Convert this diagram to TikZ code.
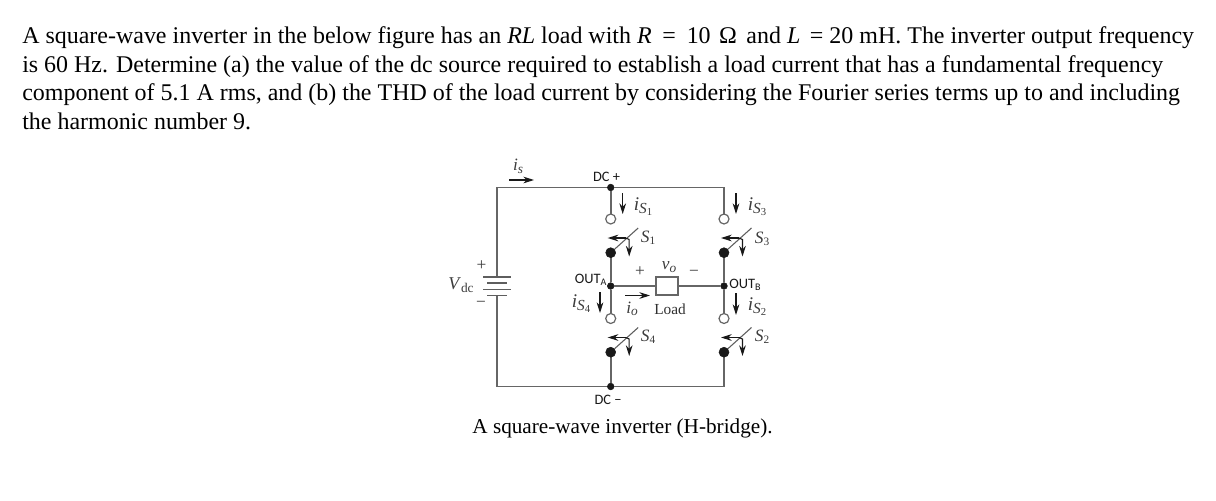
\documentclass[tikz,border=0pt]{standalone}
\usepackage{fontspec}
\setmainfont{Liberation Serif}
\newfontfamily\labelsans{Carlito}
\usetikzlibrary{arrows.meta}
\definecolor{wire}{gray}{0.4}
\definecolor{ink}{gray}{0.1}
\newcommand{\iS}[1]{{\fontsize{14.5pt}{15pt}\selectfont\textit{i}\raisebox{-0.3ex}{\fontsize{11.5pt}{11pt}\selectfont\textit{S}\raisebox{-0.35ex}{\fontsize{8pt}{8pt}\selectfont #1}}}}
\newcommand{\bigS}[1]{\textit{S}\raisebox{-0.3ex}{\fontsize{8.5pt}{8.5pt}\selectfont #1}}
\tikzset{
  x=0.75pt,y=-0.75pt,
  wireline/.style={draw=wire,line width=1.25pt},
  thinline/.style={draw=ink!70,line width=0.8pt},
  arr/.style={draw=ink,line width=0.8pt,-{Stealth[length=8pt,width=5pt]}},
  dotc/.style={circle,fill=ink,draw=ink,inner sep=0pt,minimum size=5pt},
  dotb/.style={circle,fill=ink,draw=ink,inner sep=0pt,minimum size=7.5pt},
  openc/.style={circle,fill=white,draw=wire,line width=0.9pt,inner sep=0pt,minimum size=7.5pt},
  para/.style={anchor=base west,inner sep=0pt,font=\fontsize{17.97pt}{22pt}\selectfont},
  captext/.style={anchor=base,inner sep=0pt,font=\fontsize{15.9pt}{20pt}\selectfont},
  sanslab/.style={anchor=base,inner sep=0pt,text=ink,font=\labelsans\fontsize{10.8pt}{12pt}\selectfont},
  serlab/.style={anchor=base,inner sep=0pt,text=ink!90,font=\fontsize{11.5pt}{12pt}\selectfont},
  mlab/.style={anchor=center,inner sep=0pt,text=ink!85,font=\fontsize{13pt}{14pt}\selectfont},
}
\newcommand{\swblock}[3]{%
  \node[openc] (#1o) at (#2,#3) {};
  \node[dotb] (#1c) at (#2,#3+33.7) {};
  \coordinate (#1t) at (#2+27.5,#3+9);
  \coordinate (#1a) at (#2+15,#3+19);
  \coordinate (#1b) at (#2-3,#3+19);
  \coordinate (#1d) at (#2+18.5,#3+37.5);
  \draw[thinline] (#1c) -- (#1t);
  \draw[arr] (#1a) -- (#1b);
  \draw[arr] (#1a) -- ++(3.5,1.5) -- (#1d);
}
\begin{document}
\begin{tikzpicture}
\useasboundingbox (0,0) rectangle (1216,500);
\fill[white] (0,0) rectangle (1216,500);
\node[para] (l1) at (22,43) {A square-wave inverter in the below figure has an \textit{RL} load with \textit{R}\hspace{0.45em}=\hspace{0.45em}10\hspace{0.35em}Ω\hspace{0.4em}and \textit{L}\hspace{0.4em}=\hspace{0.25em}20 mH. The inverter output frequency};
\node[para] (l2) at (22,72) {is 60 Hz. Determine (a) the value of the dc source required to establish a load current that has a fundamental frequency};
\node[para] (l3) at (22,100) {component of 5.1 A rms, and (b) the THD of the load current by considering the Fourier series terms up to and including};
\node[para] (l4) at (22,129) {the harmonic number 9.};
\node[captext] (cp) at (622.5,433) {A square-wave inverter (H-bridge).};

\coordinate (tl) at (497,187.5);
\coordinate (bl) at (497,386.5);
\coordinate (tr) at (724,187.5);
\coordinate (br) at (724,386.5);
\node[dotc] (dcp) at (610.7,187.5) {};
\node[dotc] (dcm) at (610.7,386.5) {};
\node[dotc] (outa) at (610.7,286) {};
\node[dotc] (outb) at (724,286) {};
\coordinate (bt) at (497,277);
\coordinate (bb) at (497,295.5);
\draw[wireline] (bt) -- (tl) -- (dcp) -- (tr) -- (724,214);
\draw[wireline] (bb) -- (bl) -- (dcm) -- (br) -- (724,352);
\draw[wireline] (dcp) -- (610.7,214);
\draw[wireline] (610.7,252) -- (outa) -- (610.7,314);
\draw[wireline] (610.7,352) -- (dcm);
\draw[wireline] (724,252) -- (outb);
\draw[wireline] (outb) -- (724,314);
\node[draw=wire,line width=1.1pt,fill=white,minimum width=16.5pt,minimum height=13.7pt,inner sep=0pt] (load) at (667,286) {};
\draw[wireline] (outa) -- (load);
\draw[wireline] (load) -- (outb);
\swblock{sa}{610.7}{219}
\swblock{sb}{724}{219}
\swblock{sc}{610.7}{318.5}
\swblock{sd}{724}{318.5}
% battery
\coordinate (p1a) at (483,277); \coordinate (p1b) at (511,277);
\coordinate (p2a) at (487,283); \coordinate (p2b) at (507,283);
\coordinate (p3a) at (483,289.3); \coordinate (p3b) at (511,289.3);
\coordinate (p4a) at (487,295.5); \coordinate (p4b) at (507,295.5);
\draw[thinline] (p1a)--(p1b) (p2a)--(p2b) (p3a)--(p3b) (p4a)--(p4b);
\coordinate (isa) at (509,180); \coordinate (isb) at (534,180);
\draw[arr] (isa) -- (isb);
\foreach \n/\x/\ya/\yb in {i1/622.7/193/214, i3/736/193/214, i4/600/292/313, i2/736/293/315} {
  \coordinate (\n a) at (\x,\ya); \coordinate (\n b) at (\x,\yb);
  \draw[arr] (\n a) -- (\n b);
}
\coordinate (ioa) at (625,295.5); \coordinate (iob) at (650,295.5);
\draw[arr] (ioa) -- (iob);
\node[mlab] (tis) at (518,166) {\textit{i}\raisebox{-0.4ex}{\fontsize{10pt}{10pt}\selectfont\textit{s}}};
\node[mlab,font=\fontsize{13.5pt}{15pt}\selectfont] (tv) at (461,285) {\textit{V}\raisebox{-0.3ex}{\fontsize{10pt}{10pt}\selectfont dc}};
\node[sanslab] (tdp) at (606.5,181) {DC +};
\node[sanslab] (tdm) at (608,404) {DC \textminus};
\node[sanslab] (toa) at (591,283) {OUT\textsubscript{A}};
\node[sanslab,anchor=base west] (tob) at (729,288) {OUT\textsubscript{B}};
\node[serlab] (tload) at (670,314) {Load};
\node[mlab] (tp) at (481.5,266) {+};
\node[mlab] (tm) at (481,304) {\textminus};
\node[mlab] (tvp) at (640,272) {+};
\node[mlab] (tvm) at (694,273) {\textminus};
\node[mlab] (tvo) at (669,267) {\textit{v}\raisebox{-0.3ex}{\fontsize{10pt}{10pt}\selectfont\textit{o}}};
\node[mlab] (tio) at (632,309) {\textit{i}\raisebox{-0.3ex}{\fontsize{10pt}{10pt}\selectfont\textit{o}}};
\node[mlab] (ts1) at (643,207) {\iS{1}};
\node[mlab] (ts3) at (757,207) {\iS{3}};
\node[mlab] (ts4) at (581,304) {\iS{4}};
\node[mlab] (ts2) at (757,307) {\iS{2}};
\node[mlab] (n1) at (648,238) {\bigS{1}};
\node[mlab] (n3) at (762,239) {\bigS{3}};
\node[mlab] (n4) at (648,337) {\bigS{4}};
\node[mlab] (n2) at (762,337) {\bigS{2}};
\end{tikzpicture}
\end{document}
